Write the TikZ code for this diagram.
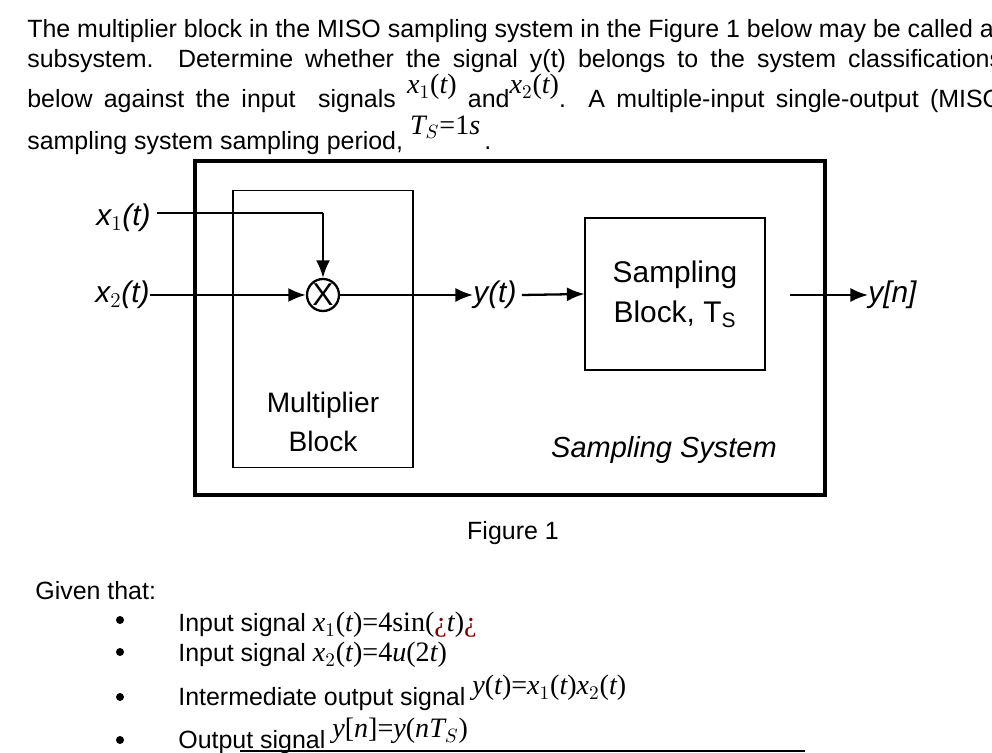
\documentclass[tikz,border=0pt]{standalone}
\usepackage{fontspec}
\setmainfont{Liberation Sans}
\newfontfamily\serifm{Liberation Serif}
\usetikzlibrary{arrows.meta}
\tikzset{
  txt/.style={anchor=base west,inner sep=0pt,font=\fontsize{14.2}{16}\selectfont},
  lbl/.style={inner sep=0pt,font=\itshape\fontsize{17}{20}\selectfont},
  blk/.style={draw,line width=0.6pt},
  sig/.style={line width=1.3pt,-{Latex[length=10pt,width=8pt]}}
}
\newcommand{\mth}[1]{{\serifm\itshape\fontsize{16}{18}\selectfont #1}}
\newcommand{\mrm}[1]{{\serifm\fontsize{16}{18}\selectfont #1}}
\begin{document}
\begin{tikzpicture}[x=0.02cm,y=-0.02cm]
  \useasboundingbox (0,0) rectangle (992,753);
  \clip (0,0) rectangle (992,753);
  % question text
  \node[txt] (l1) at (27,38) {The multiplier block in the MISO sampling system in the Figure 1 below may be called a};
  \node[txt] (l2) at (27,68) {\makebox[19.5cm][s]{subsystem. Determine whether the signal y(t) belongs to the system classifications}};
  \node[txt] (l3) at (27,108) {\makebox[19.5cm][s]{below against the input \ signals \raisebox{8pt}{\mth{x}\mrm{$_1$(}\mth{t}\mrm{)}} and\raisebox{8pt}{\mth{x}\mrm{$_2$(}\mth{t}\mrm{)}}. A multiple-input single-output (MISO}};
  \node[txt] (l4) at (27,150) {sampling system sampling period, \raisebox{9pt}{\mth{T}\mrm{$_S$=1}\mth{s}}\,.};
  % figure
  \draw[line width=2.4pt] (195,161) rectangle (825,495);
  \node[blk,minimum width=3.6cm,minimum height=5.54cm] (mb) at (323,329) {};
  \node[blk,minimum width=3.6cm,minimum height=3.04cm] (sb) at (675,294) {};
  \node[draw,circle,line width=1.3pt,minimum size=0.64cm,inner sep=0pt,font=\fontsize{18}{20}\selectfont] (mul) at (323,295) {X};
  \node[lbl,anchor=east] (x1) at (151,218) {x$_1$(t)};
  \node[lbl,anchor=east] (x2) at (150,295) {x$_2$(t)};
  \node[lbl,anchor=west] (yt) at (473,295) {y(t)};
  \node[lbl,anchor=west] (yn) at (868,295) {y[n]};
  \coordinate (c1) at (323,213);
  \coordinate (so) at (790,295);
  \draw[line width=1.3pt] (x1.east) ++(6,-5) -- (c1);
  \draw[sig] (c1) -- (mul.north);
  \draw[sig] (x2.east) -- (mul.west);
  \draw[sig] (mul.east) -- (yt.west);
  \draw[sig] (yt.east) ++(5,0) -- (sb.west);
  \draw[sig] (so) -- (yn.west);
  \node[align=center,font=\fontsize{17}{23}\selectfont] at (sb.center) {Sampling\\Block, T$_{\mathrm S}$};
  \node[align=center,font=\fontsize{16}{22}\selectfont] at (323,422) {Multiplier\\Block};
  \node[font=\itshape\fontsize{16.5}{18}\selectfont] at (664,450) {Sampling System};
  \node[txt,anchor=center] at (513,533) {Figure 1};
  % given
  \node[txt] at (35,600) {Given that:};
  \foreach \yy in {620,652,697,740} \fill (120,\yy) circle (4);
  \node[txt] at (178,632) {Input signal \mth{x}\mrm{$_1$(}\mth{t}\mrm{)=4sin(}\textcolor{red!50!black}{\mrm{¿}}\mth{t}\mrm{)}\textcolor{red!50!black}{\mrm{¿}}};
  \node[txt] at (178,662) {Input signal \mth{x}\mrm{$_2$(}\mth{t}\mrm{)=4}\mth{u}\mrm{(2}\mth{t}\mrm{)}};
  \node[txt] at (178,705) {Intermediate output signal \raisebox{6pt}{\mth{y}\mrm{(}\mth{t}\mrm{)=}\mth{x}\mrm{$_1$(}\mth{t}\mrm{)}\mth{x}\mrm{$_2$(}\mth{t}\mrm{)}}};
  \node[txt] at (178,748) {Output signal \raisebox{6pt}{\mth{y}\mrm{[}\mth{n}\mrm{]=}\mth{y}\mrm{(}\mth{nT}\mrm{$_S$)}}};
  \draw[line width=1.5pt] (240,751) -- (805,751);
\end{tikzpicture}
\end{document}
